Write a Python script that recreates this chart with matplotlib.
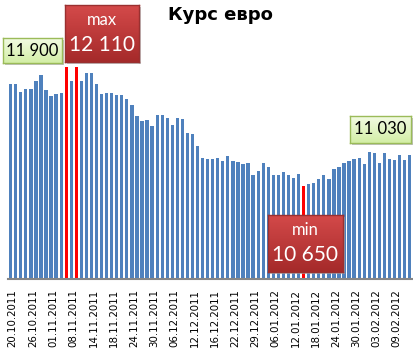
import numpy as np
import matplotlib
matplotlib.use("Agg")
from matplotlib import pyplot as plt
from matplotlib.colors import LinearSegmentedColormap
from matplotlib.patches import Rectangle

# daily rate, 20.10.2011 - 14.02.2012
rate = [11900, 11900, 11807, 11841, 11841, 11943, 12017, 11828, 11758, 11783,
        11795, 12110, 11943, 12110, 11943, 12041, 12041, 11906, 11783, 11795,
        11795, 11771, 11771, 11721, 11648, 11512, 11447, 11459, 11386, 11521,
        11521, 11484, 11398, 11484, 11472, 11299, 11287, 11140, 10992, 10980,
        10980, 10992, 10955, 11017, 10955, 10943, 10918, 10930, 10783, 10832,
        10930, 10881, 10783, 10783, 10820, 10783, 10746, 10795, 10650, 10672,
        10684, 10734, 10783, 10734, 10857, 10881, 10930, 10955, 10980, 10992,
        10918, 11066, 11053, 10930, 11053, 10980, 10967, 11029, 10967, 11030]
date_labels = ["20.10.2011", "26.10.2011", "01.11.2011", "08.11.2011", "14.11.2011",
               "18.11.2011", "24.11.2011", "30.11.2011", "06.12.2011", "12.12.2011",
               "16.12.2011", "22.12.2011", "29.12.2011", "06.01.2012", "12.01.2012",
               "18.01.2012", "24.01.2012", "30.01.2012", "03.02.2012", "09.02.2012"]
label_step = 4

W, H = 414, 354
fig = plt.figure(figsize=(W / 100, H / 100), dpi=100)
ax = fig.add_axes([8 / W, (H - 279.3) / H, 404 / W, 243.7 / H])

x = np.arange(len(rate))
vmax, vmin = max(rate), min(rate)
colors = ["#ff0000" if v in (vmax, vmin) else "#4f81bd" for v in rate]
ax.bar(x, rate, width=0.65, color=colors)

ax.set_ylim(9500, 12500)
ax.set_xlim(-0.53, len(rate) - 0.54)
for s in ["top", "left", "right"]:
    ax.spines[s].set_visible(False)
ax.spines["bottom"].set_color("#868686")
ax.spines["bottom"].set_linewidth(1.5)
ax.set_yticks([])
ax.set_xticks(x[::label_step] + 0.4)
ax.set_xticklabels(date_labels, rotation=90, fontsize=7.4)
ax.tick_params(axis="x", length=0, pad=7)

fig.text(220 / W, 1 - 15 / H, "Курс евро", ha="center", va="center",
         fontsize=13, fontweight="bold")


def fmt(v):
    return f"{v:,}".replace(",", " ")


def box(x0, y0, w, h, top, bottom, edge):
    shadow = Rectangle(((x0 + 2) / W, 1 - (y0 + h + 2) / H), w / W, h / H,
                       transform=fig.transFigure, color="#a8a8a8", alpha=0.7,
                       lw=0, zorder=1)
    fig.add_artist(shadow)
    bax = fig.add_axes([x0 / W, 1 - (y0 + h) / H, w / W, h / H], zorder=3)
    cmap = LinearSegmentedColormap.from_list("g", [top, bottom])
    bax.imshow(np.linspace(0, 1, 64)[:, None], cmap=cmap, aspect="auto",
               extent=[0, 1, 0, 1])
    bax.set_xticks([])
    bax.set_yticks([])
    for s in bax.spines.values():
        s.set_color(edge)
        s.set_linewidth(1)
    return bax


fam = ["Lato", "DejaVu Sans"]

b = box(3, 38, 59, 25, "#f2fbe3", "#d3eea6", "#9bbb59")
b.text(0.5, 0.5, fmt(rate[0]), ha="center", va="center", fontsize=12, family=fam)

b = box(350, 116, 61, 27, "#f2fbe3", "#d3eea6", "#9bbb59")
b.text(0.5, 0.5, fmt(rate[-1]), ha="center", va="center", fontsize=12, family=fam)

b = box(65, 5, 74, 57, "#d44a4a", "#a52a2a", "#9a3030")
b.text(0.5, 0.74, "max", ha="center", va="center", fontsize=12, color="white", family=fam)
b.text(0.5, 0.3, fmt(vmax), ha="center", va="center", fontsize=15, color="white", family=fam)

b = box(268, 215, 75, 57, "#d44a4a", "#a52a2a", "#9a3030")
b.text(0.5, 0.74, "min", ha="center", va="center", fontsize=12, color="white", family=fam)
b.text(0.5, 0.3, fmt(vmin), ha="center", va="center", fontsize=15, color="white", family=fam)

fig.savefig("out.png", dpi=100)
